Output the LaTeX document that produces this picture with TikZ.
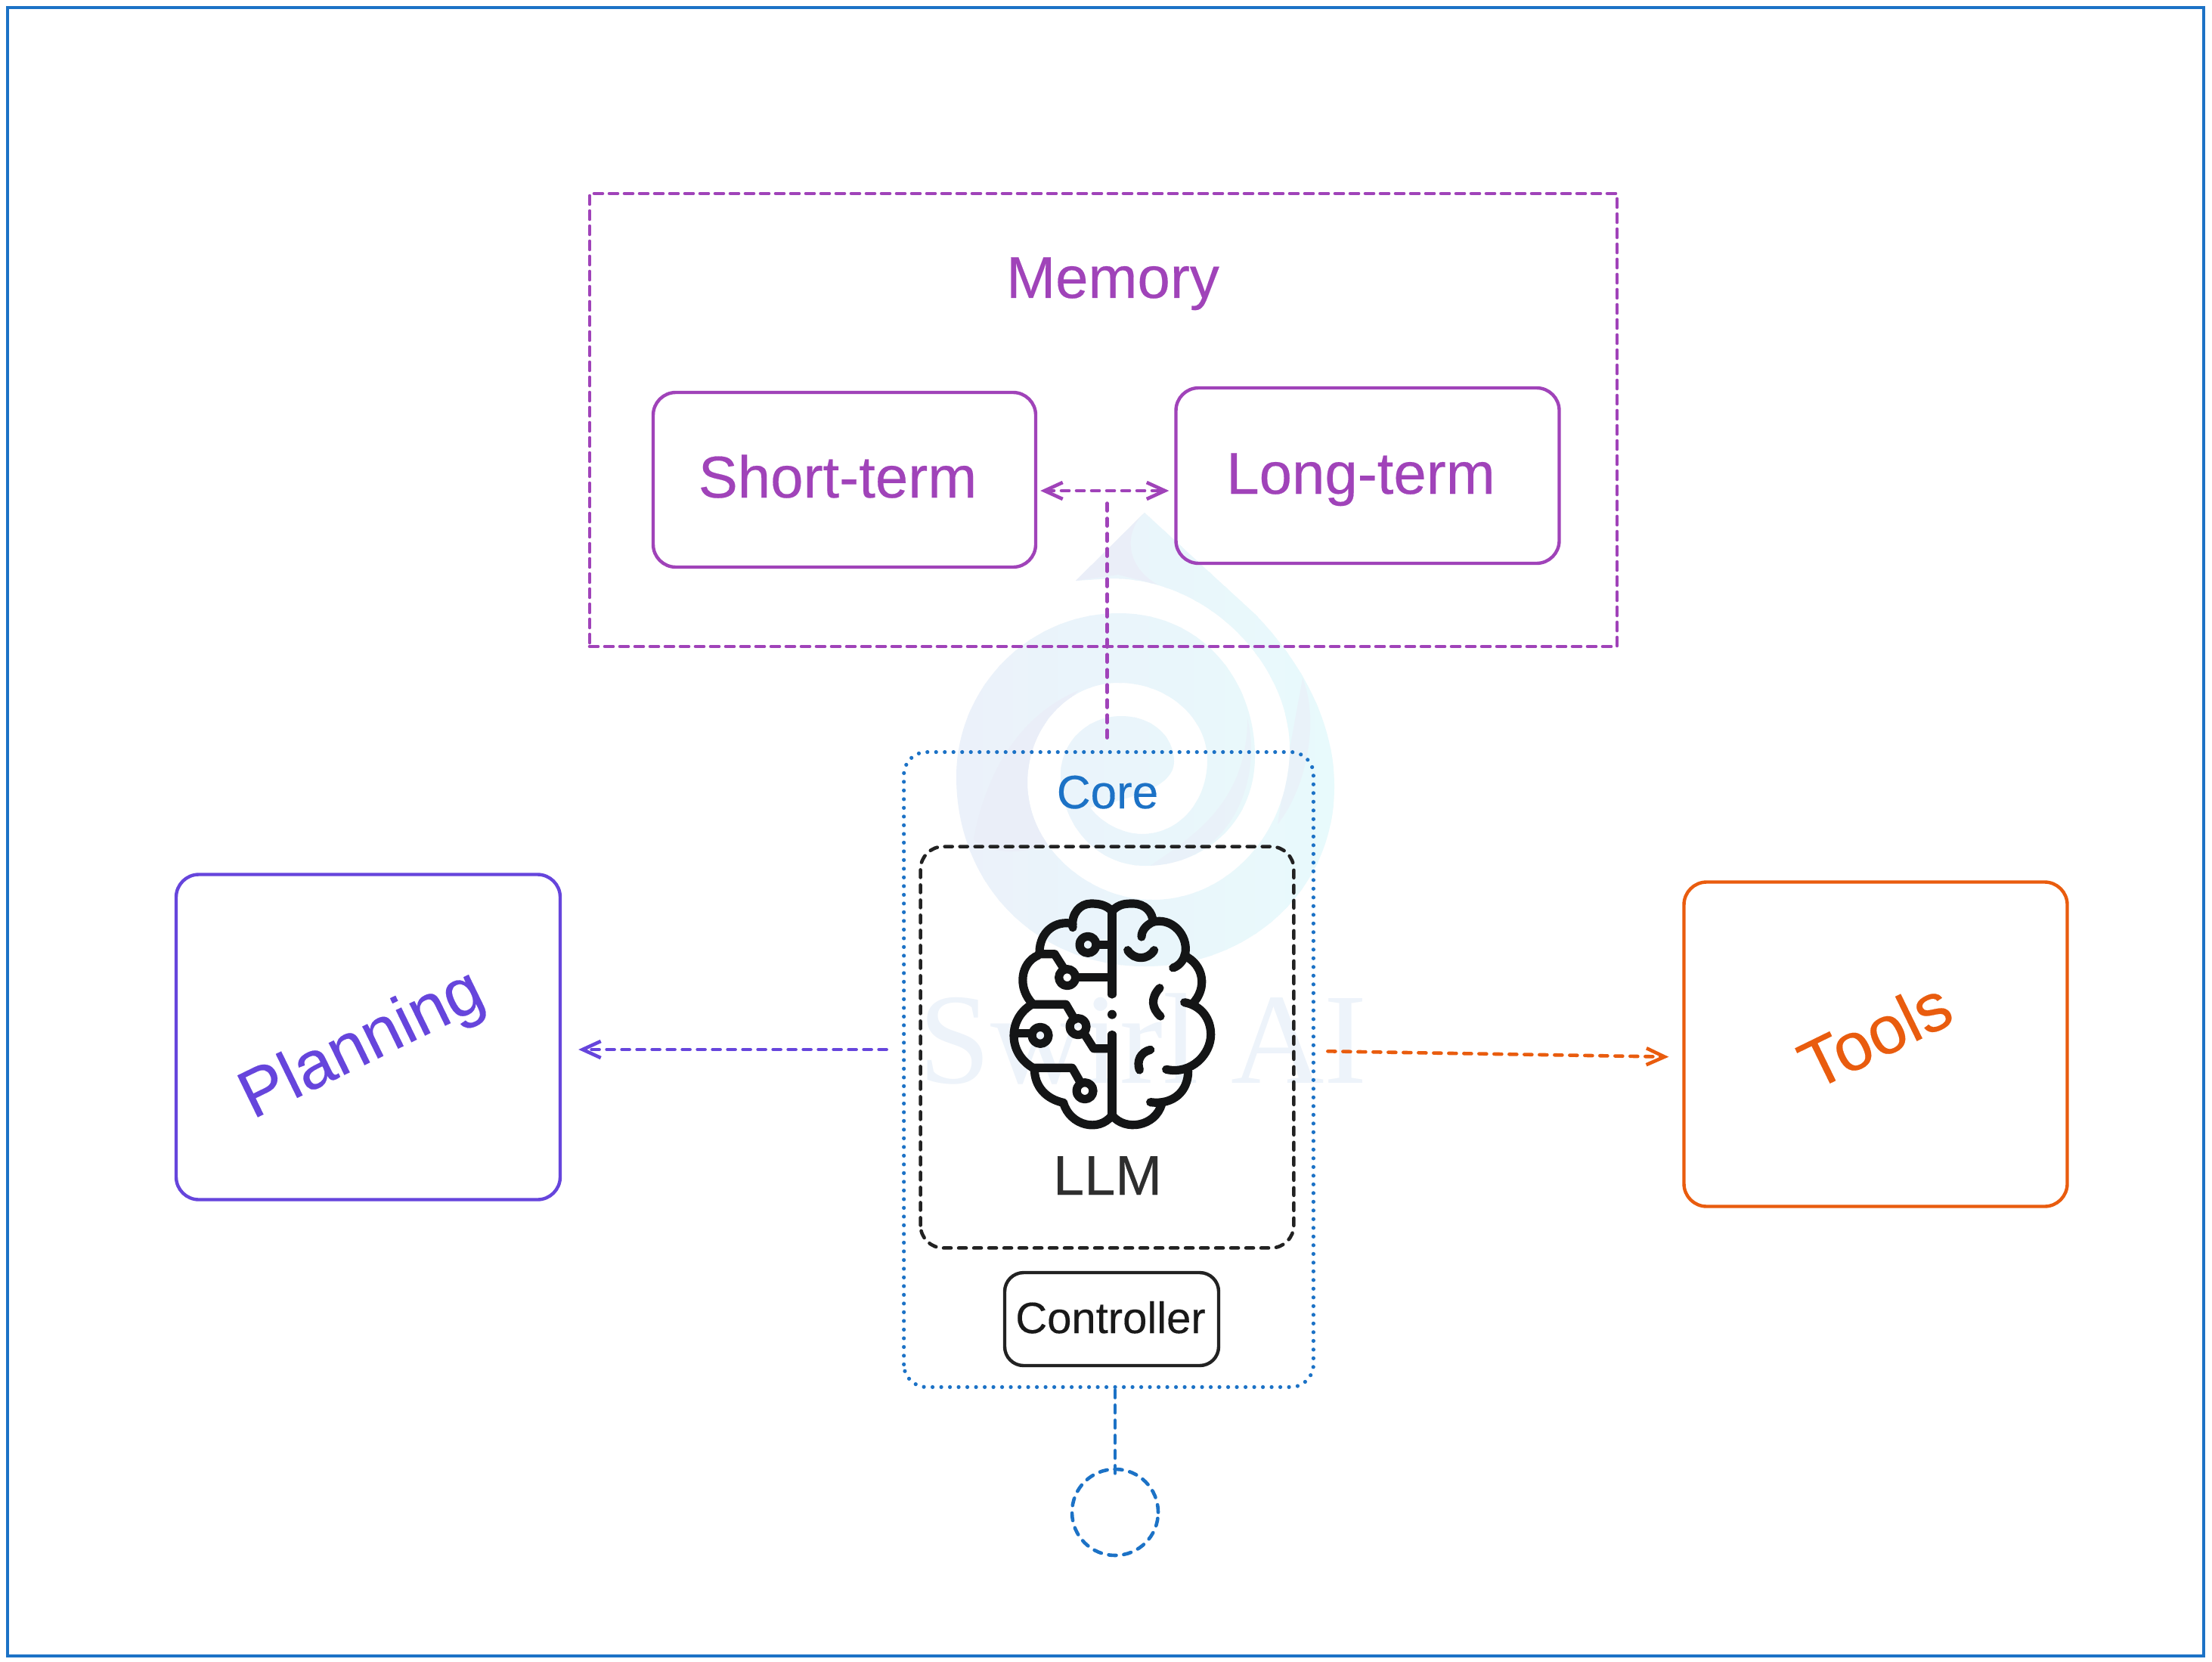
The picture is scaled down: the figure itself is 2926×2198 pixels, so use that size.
\documentclass[tikz,border=0pt]{standalone}
\usepackage{fontspec}
\setmainfont[FakeBold=0.25]{Liberation Sans}
\newfontfamily\wmfont{Liberation Serif}
\usetikzlibrary{arrows.meta}
\definecolor{cpurple}{HTML}{A043B9}
\definecolor{cblue}{HTML}{1C72C6}
\definecolor{cindigo}{HTML}{6645DC}
\definecolor{corange}{HTML}{E95C0E}
\definecolor{cdark}{HTML}{222222}
\definecolor{cllm}{HTML}{2E2E2E}
\definecolor{cbrain}{HTML}{141516}
\definecolor{wmleft}{HTML}{EBF1FA}
\definecolor{wmright}{HTML}{E8FAFC}
\definecolor{wmlav}{HTML}{EAEEF8}
\definecolor{wmtext}{HTML}{EDF3FA}
\tikzset{
  rbox/.style={draw=#1,line width=2.2pt,rounded corners=15pt,inner sep=0pt,fill=none},
  txt/.style={text=#1,inner sep=0pt,anchor=base},
  dashline/.style={draw=#1,line width=2.3pt,line cap=round,dash pattern=on 5pt off 5pt},
  dotline/.style={draw=#1,line width=2.6pt,line cap=round,dash pattern=on 0pt off 5.75pt},
  barb/.style={-{Straight Barb[length=12pt,width=11pt,line width=2.3pt]}},
  dbarb/.style={{Straight Barb[length=12pt,width=11pt,line width=2.3pt]}-{Straight Barb[length=12pt,width=11pt,line width=2.3pt]}},
  bstroke/.style={draw=cbrain,line width=5.6pt,line cap=round,line join=round},
}
\begin{document}
\begin{tikzpicture}[x=.5pt,y=-.5pt]
\useasboundingbox (0,0) rectangle (2926,2198);
\fill[white] (0,0) rectangle (2926,2198);
% watermark: one spiral silhouette, coloured in vertical strips
\begin{scope}
\clip (1514,678) -- (1660,812)
  .. controls (1735,890) and (1765,970) .. (1765,1040)
  .. controls (1765,1180) and (1650,1278) .. (1515,1278)
  .. controls (1370,1278) and (1265,1170) .. (1265,1027)
  .. controls (1265,910) and (1360,811) .. (1480,811)
  .. controls (1590,811) and (1660,900) .. (1660,1000)
  .. controls (1660,1090) and (1590,1145) .. (1515,1145)
  .. controls (1450,1145) and (1403,1090) .. (1403,1025)
  .. controls (1403,980) and (1440,947) .. (1483,947)
  .. controls (1525,947) and (1553,975) .. (1553,1007)
  .. controls (1553,1040) and (1500,1055) .. (1442,1068)
  .. controls (1460,1092) and (1490,1103) .. (1510,1103)
  .. controls (1560,1103) and (1597,1060) .. (1597,1005)
  .. controls (1597,950) and (1545,903) .. (1480,903)
  .. controls (1410,903) and (1359,965) .. (1359,1035)
  .. controls (1359,1120) and (1440,1190) .. (1525,1190)
  .. controls (1625,1190) and (1706,1100) .. (1706,990)
  .. controls (1706,880) and (1600,765) .. (1470,765)
  -- (1423,768) -- cycle;
\foreach \i in {0,...,25}{
  \pgfmathtruncatemacro{\p}{\i*4}
  \fill[wmright!\p!wmleft] ({1260+\i*20},670) rectangle ({1284+\i*20},1285);
}
\fill[wmlav] (1514,678) .. controls (1485,705) and (1490,750) .. (1531,773) -- (1479,760) -- (1423,768) -- cycle;
\fill[wmlav] (1427,913) .. controls (1338,950) and (1300,1040) .. (1288,1110) .. controls (1310,1130) and (1350,1130) .. (1386,1117) -- (1359,1035) -- (1386,950) -- cycle;
\fill[wmlav,opacity=.6] (1723,897) .. controls (1745,950) and (1730,1040) .. (1690,1090) -- (1706,990) -- cycle;
\fill[wmlav,opacity=.6] (1650,950) .. controls (1670,1030) and (1630,1140) .. (1520,1146) .. controls (1580,1105) and (1650,1060) .. (1650,950) -- cycle;
\end{scope}
\node[font=\wmfont,text=wmtext,inner sep=0pt,anchor=base] (wm) at (1512,1432) {\fontsize{85.5pt}{86pt}\selectfont Swirl AI};
% frame
\node[draw=cblue,line width=2.3pt,inner sep=0pt,minimum width=1452.5pt,minimum height=1090pt] (frame) at (1462.5,1100) {};
% memory
\node[draw=cpurple,line width=2.3pt,dash pattern=on 5.5pt off 4.5pt,line cap=round,inner sep=0pt,minimum width=679.5pt,minimum height=299.5pt] (memory) at (1459.5,555.5) {};
\node[txt=cpurple] (memlabel) at (1472,394) {\fontsize{39pt}{40pt}\selectfont Memory};
\node[rbox=cpurple,minimum width=253pt,minimum height=115.5pt] (short) at (1117,634.5) {};
\node[rbox=cpurple,minimum width=253.5pt,minimum height=116pt] (long) at (1809,629) {};
\node[txt=cpurple] (shortlabel) at (1108,658) {\fontsize{39pt}{40pt}\selectfont Short-term};
\node[txt=cpurple] (longlabel) at (1800,653) {\fontsize{39pt}{40pt}\selectfont Long-term};
% core
\node[inner sep=0pt,minimum width=270.5pt,minimum height=419.5pt] (core) at (1466.5,1414.5) {};
\draw[dotline=cblue,rounded corners=15pt] (core.south west) rectangle (core.north east);
\node[txt=cblue] (corelabel) at (1465,1069) {\fontsize{31pt}{32pt}\selectfont Core};
\node[inner sep=0pt,minimum width=246.5pt,minimum height=265pt] (llm) at (1464.5,1385) {};
\draw[dashline=cdark,rounded corners=15pt] (llm.south west) rectangle (llm.north east);
\node[txt=cllm] (llmlabel) at (1465,1580) {\fontsize{37pt}{38pt}\selectfont LLM};
\node[rbox=cdark,rounded corners=12.5pt,minimum width=141.5pt,minimum height=61.5pt] (ctrl) at (1470.5,1744.5) {};
\node[txt=black!90] (ctrllabel) at (1469,1763) {\fontsize{29pt}{30pt}\selectfont Controller};
\node[dashline=cblue,circle,inner sep=0pt,minimum size=57pt] (circ) at (1475,2000) {};
% side boxes
\node[rbox=cindigo,minimum width=254pt,minimum height=215pt] (plan) at (487,1371.5) {};
\node[text=cindigo,inner sep=0pt,rotate=26] (planlabel) at (480,1384) {\fontsize{44.5pt}{46pt}\selectfont Planning};
\node[rbox=corange,minimum width=253.5pt,minimum height=214.5pt] (tools) at (2481,1381) {};
\node[text=corange,inner sep=0pt,rotate=26] (toolslabel) at (2480,1368) {\fontsize{45pt}{46pt}\selectfont Tools};
% connectors
\coordinate (ymem) at (0,649);
\coordinate (yplan) at (0,1388);
\coordinate (ytoolsa) at (0,1390);
\coordinate (ytoolsb) at (0,1398);
\draw[dashline=cpurple,dbarb,shorten <=2pt,shorten >=3.5pt] (short.east |- ymem) -- (long.west |- ymem);
\draw[dashline=cpurple,shorten <=9.5pt,shorten >=8pt] (llm.north |- core.north) -- (llm.north |- ymem);
\draw[dashline=cindigo,barb,shorten <=11.5pt,shorten >=11pt] (core.west |- yplan) -- (plan.east |- yplan);
\draw[dashline=corange,barb,shorten <=9.5pt,shorten >=9pt] (core.east |- ytoolsa) -- (tools.west |- ytoolsb);
\draw[dashline=cblue,shorten <=2pt,shorten >=-6pt] (circ.north |- core.south) -- (circ.north);
% brain icon
\begin{scope}[shift={(1300,1160)},scale=.33333]
\draw[bstroke] (513,135) -- (513,465);
\draw[bstroke] (513,625) -- (513,945);
\fill[cbrain] (513,545) circle[radius=18];
% left contour
\draw[bstroke] (513,135) .. controls (490,110) and (460,105) .. (430,105) .. controls (385,105) and (350,145) .. (357,200);
\draw[bstroke] (357,185) .. controls (290,170) and (225,215) .. (225,300);
\draw[bstroke] (225,305) -- (285,305) -- (320,360);
\draw[bstroke] (220,310) .. controls (150,340) and (135,440) .. (200,505);
\draw[bstroke] (200,505) -- (330,505) -- (365,565);
\draw[bstroke] (195,505) .. controls (100,560) and (95,700) .. (205,760);
\draw[bstroke] (125,620) -- (190,620);
\draw[bstroke] (205,757) -- (355,757) -- (388,815);
\draw[bstroke] (205,760) .. controls (205,830) and (250,880) .. (320,895);
\draw[bstroke] (320,895) .. controls (345,985) and (460,1015) .. (513,945);
% circuit nodes
\draw[bstroke] (417,268) circle[radius=33];
\draw[bstroke] (455,268) -- (505,268);
\draw[bstroke] (335,398) circle[radius=33];
\draw[bstroke] (375,398) -- (505,398);
\draw[bstroke] (378,593) circle[radius=33];
\draw[bstroke] (405,625) -- (440,680) -- (505,680);
\draw[bstroke] (228,628) circle[radius=33];
\draw[bstroke] (405,848) circle[radius=33];
% right contour
\draw[bstroke] (513,135) .. controls (540,105) and (570,105) .. (595,105) .. controls (645,105) and (675,140) .. (675,178) .. controls (650,190) and (630,210) .. (630,237);
\draw[bstroke] (675,178) .. controls (745,160) and (805,220) .. (805,285) .. controls (805,320) and (785,350) .. (755,360);
\draw[bstroke] (800,312) .. controls (875,345) and (895,440) .. (830,505);
\draw[bstroke] (800,497) .. controls (870,510) and (905,565) .. (905,625) .. controls (905,700) and (830,785) .. (728,763);
\draw[bstroke] (815,770) .. controls (815,850) and (755,905) .. (665,893);
\draw[bstroke] (710,900) .. controls (685,990) and (565,1010) .. (513,945);
\draw[bstroke] (575,290) .. controls (600,330) and (655,330) .. (680,290);
\draw[bstroke] (702,440) .. controls (665,480) and (670,520) .. (705,552);
\draw[bstroke] (665,685) .. controls (625,695) and (610,730) .. (622,765);
\end{scope}
\end{tikzpicture}
\end{document}
